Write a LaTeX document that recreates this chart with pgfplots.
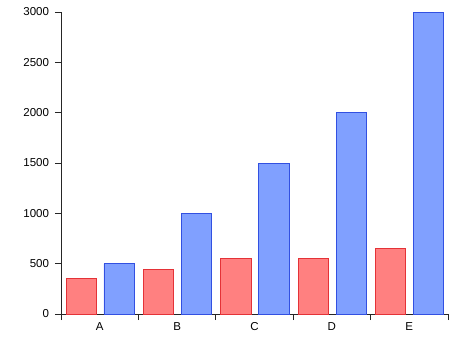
\documentclass[border=0pt]{standalone}
\usepackage{fontspec}
\setmainfont{Liberation Sans}
\usepackage{pgfplots}
\pgfplotsset{compat=1.18}
\definecolor{redfill}{RGB}{255,128,128}
\definecolor{redline}{RGB}{228,50,55}
\definecolor{bluefill}{RGB}{128,160,255}
\definecolor{blueline}{RGB}{50,80,225}
\begin{document}
\begin{tikzpicture}[x=1pt,y=1pt]
\path[use as bounding box] (-61,-40) rectangle (413,314);
\begin{axis}[
  at={(0,0)}, anchor=south west,
  scale only axis, width=387pt, height=302pt,
  xmin=0, xmax=5, ymin=0, ymax=3000,
  axis lines*=left,
  axis line style={-, line width=0.8pt, black!85},
  tick align=outside,
  major tick length=6pt,
  tick style={line width=0.8pt, black!85},
  xtick={0,1,2,3,4,5},
  xticklabels={A,B,C,D,E},
  x tick label as interval,
  ytick={0,500,1000,1500,2000,2500,3000},
  /pgf/number format/assume math mode=true,
  /pgf/number format/1000 sep={},
  tick label style={font=\fontsize{11.5}{13}\selectfont},
  yticklabel style={xshift=-2.5pt},
  xticklabel style={yshift=1pt},
  clip=false,
]
\addplot[ybar, bar width=0.39, bar shift=0pt, fill=redfill, draw=redline, line width=0.7pt]
  coordinates {(0.26,350) (1.26,440) (2.26,550) (3.26,550) (4.26,650)};
\addplot[ybar, bar width=0.39, bar shift=0pt, fill=bluefill, draw=blueline, line width=0.7pt]
  coordinates {(0.75,500) (1.75,1000) (2.75,1500) (3.75,2000) (4.75,3000)};
\end{axis}
\end{tikzpicture}
\end{document}
